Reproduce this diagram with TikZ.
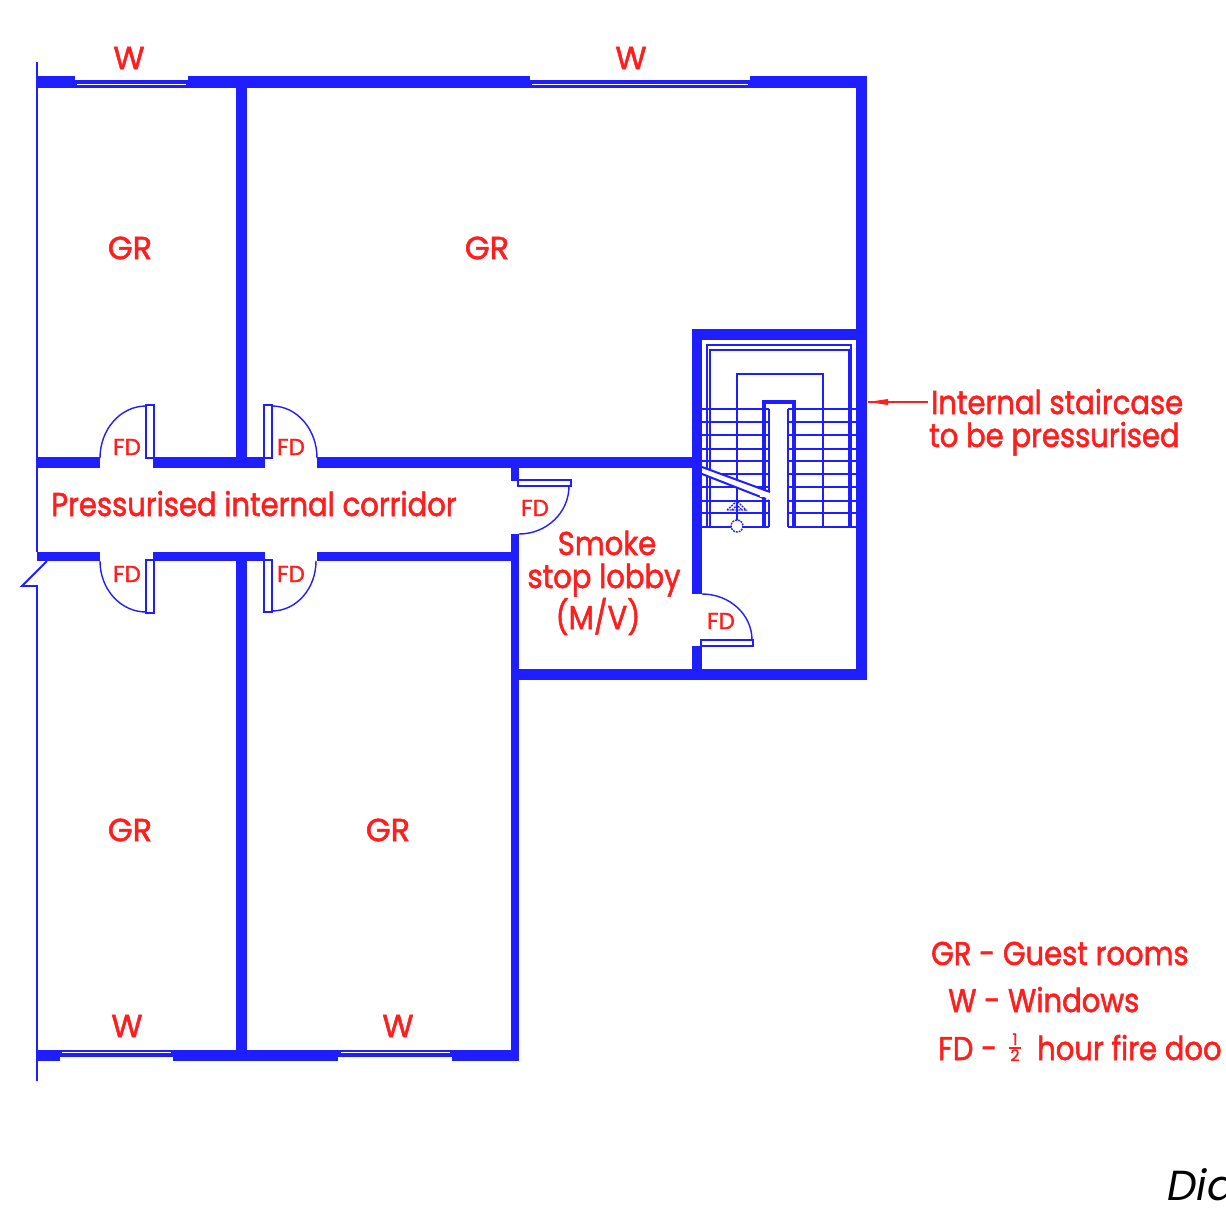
\documentclass[tikz,border=0pt]{standalone}
\usepackage{fontspec}
\setmainfont{Poppins}
\newfontfamily\labfont{Poppins}[FakeBold=1.6]
\newfontfamily\txtfont{Poppins}[FakeBold=1.6,FakeStretch=0.88]
\definecolor{wallblue}{RGB}{30,30,255}
\definecolor{labelred}{RGB}{255,30,30}
\tikzset{
  wall/.style={fill=wallblue,draw=none},
  thin line/.style={draw=wallblue,line width=1.9pt},
  mid line/.style={draw=wallblue,line width=2pt},
  thick rail/.style={draw=wallblue,line width=3.6pt},
  doorleaf/.style={draw=wallblue,line width=1.6pt,fill=white},
  swing/.style={draw=wallblue,line width=1.4pt},
  glass/.style={fill=white,draw=none},
  lab/.style={text=labelred,inner sep=0pt,font=\labfont\fontsize{32}{36}\selectfont},
  fd/.style={text=labelred,inner sep=0pt,font=\labfont\fontsize{23}{26}\selectfont},
  big/.style={text=labelred,inner sep=0pt,anchor=base west,font=\txtfont\fontsize{33}{36}\selectfont},
  tiny/.style={text=labelred,inner sep=0pt,anchor=base,font=\labfont\fontsize{16}{18}\selectfont},
}
\begin{document}
\begin{tikzpicture}[x=1pt,y=-1pt]
\useasboundingbox (0,0) rectangle (1226,1208);
\clip (0,0) rectangle (1226,1208);
\fill[white] (0,0) rectangle (1226,1208);
% thin left line
\draw[thin line] (37,62) -- (37,552);
\draw[thin line] (47,561) -- (22,586) -- (37,586) -- (37,1081);
% top wall and windows
\fill[wall] (37,76) rectangle (75,88);
\fill[wall] (188,76) rectangle (530,88);
\fill[wall] (750,76) rectangle (866,88);
\fill[wall] (75,80) rectangle (188,88);
\fill[wall] (530,80) rectangle (750,88);
\fill[glass] (77,83.6) rectangle (186,85.2);
\fill[glass] (532,83.6) rectangle (748,85.2);
% right wall
\fill[wall] (856,76) rectangle (867,680);
% partitions
\fill[wall] (236,76) rectangle (247,462);
\fill[wall] (236,555) rectangle (247,1061);
% corridor walls
\fill[wall] (37,457) rectangle (100,468);
\fill[wall] (153,457) rectangle (265,468);
\fill[wall] (317,457) rectangle (702,468);
\fill[wall] (37,552) rectangle (100,561);
\fill[wall] (153,552) rectangle (265,561);
\fill[wall] (317,552) rectangle (519,561);
% lobby
\fill[wall] (511,457) rectangle (519,481);
\fill[wall] (511,534) rectangle (519,1061);
\fill[wall] (511,669) rectangle (867,680);
% stair enclosure
\fill[wall] (692,329) rectangle (867,340);
\fill[wall] (692,329) rectangle (702,594);
\fill[wall] (692,646) rectangle (702,680);
% bottom wall and windows
\fill[wall] (37,1050) rectangle (60,1061);
\fill[wall] (60,1050) rectangle (173,1057);
\fill[wall] (173,1050) rectangle (338,1061);
\fill[wall] (338,1050) rectangle (452,1057);
\fill[wall] (452,1050) rectangle (519,1061);
\fill[glass] (62,1051.8) rectangle (171,1053.2);
\fill[glass] (341,1051.8) rectangle (450,1053.2);
% doors (the y axis points down, so angles run clockwise on the page)
\draw[swing] (100,458) arc[start angle=180,end angle=270,x radius=46,y radius=52];
\draw[doorleaf] (146,405) rectangle (154,458);
\draw[swing] (317,458) arc[start angle=0,end angle=-90,x radius=45,y radius=52];
\draw[doorleaf] (264,405) rectangle (272,458);
\draw[swing] (100,561) arc[start angle=180,end angle=90,x radius=46,y radius=51];
\draw[doorleaf] (146,560) rectangle (154,613);
\draw[swing] (316,561) arc[start angle=0,end angle=90,x radius=44,y radius=50];
\draw[doorleaf] (264,560) rectangle (272,612);
\draw[swing] (569,486) arc[start angle=0,end angle=90,x radius=50,y radius=48];
\draw[doorleaf] (518,480) rectangle (571,486);
\draw[swing] (752,640) arc[start angle=0,end angle=-90,x radius=50,y radius=46];
\draw[doorleaf] (701,640) rectangle (753,646);
% stairs
\foreach \y in {409,422,435,449,461,474,487,501,513,527}{
  \draw[thin line] (702,\y) -- (769,\y);
  \draw[thin line] (788,\y) -- (856,\y);
}
\draw[mid line] (707,527) -- (707,345) -- (851,345) -- (851,527);
\draw[mid line] (709.5,527) -- (709.5,349.5) -- (848.5,349.5) -- (848.5,527);
\draw[thin line] (737,527) -- (737,374) -- (823,374) -- (823,527);
\draw[thin line] (769,527) -- (769,409);
\draw[thin line] (788,527) -- (788,409);
\draw[thick rail] (764,527) -- (764,402) -- (794,402) -- (794,527);
% break in the flight
\fill[white] (702,467) -- (770,492) -- (770,500) -- (702,473) -- cycle;
\draw[mid line] (702,467) -- (770,492);
\draw[mid line] (702,474) -- (766,499);
% direction mark
\fill[white] (760,493) rectangle (775,497);
\fill[white] (737,526) circle[radius=6];
\draw[thin line,densely dotted,line width=1.4pt] (737,526) circle[radius=6];
\draw[thin line,densely dotted,line width=1.4pt] (727,510) -- (737,501) -- (746,510) -- cycle;
\draw[thin line,densely dotted,line width=1.4pt] (732,510) -- (737,505) -- (742,510);
% leader arrow
\coordinate (leaderEnd) at (928,402);
\coordinate (leaderTip) at (868,402);
\fill[labelred] (868,402) -- (888,399) -- (888,405) -- cycle;
\draw[labelred,line width=1.5pt] (leaderEnd) -- (leaderTip);
% labels
\node[lab] (w1) at (129,58) {W};
\node[lab] (w2) at (631,58) {W};
\node[lab] (w3) at (127,1026) {W};
\node[lab] (w4) at (398,1026) {W};
\node[lab] (g1) at (130,248) {GR};
\node[lab] (g2) at (487,248) {GR};
\node[lab] (g3) at (130,830) {GR};
\node[lab] (g4) at (388,830) {GR};
\node[fd] (f1) at (127,447) {FD};
\node[fd] (f2) at (291,447) {FD};
\node[fd] (f3) at (127,574) {FD};
\node[fd] (f4) at (291,574) {FD};
\node[fd] (f5) at (535,508) {FD};
\node[fd] (f6) at (721,621) {FD};
\node[big,anchor=base] (corr) at (254,516) {Pressurised internal corridor};
\node[big,anchor=base] (s1) at (607,555) {Smoke};
\node[big,anchor=base] (s2) at (604,588) {stop lobby};
\node[big,anchor=base] (s3) at (598,629) {(M/V)};
\node[big] (st1) at (931,414) {Internal staircase};
\node[big] (st2) at (929,447) {to be pressurised};
\node[big] (k1) at (931,965) {GR - Guest rooms};
\node[big] (k2) at (948,1012) {W - Windows};
\node[big] (k3) at (938,1060) {FD -};
\node[tiny] (hn) at (1015,1045) {1};
\node[tiny] (hd) at (1015,1061) {2};
\draw[labelred,line width=1.2pt] (1009,1048) -- (1021,1048);
\node[big] (k4) at (1037,1060) {hour fire doo};
\node[anchor=base west,inner sep=0pt,font=\fontsize{42}{46}\selectfont\itshape] (dia) at (1167,1200) {Dia};
\end{tikzpicture}
\end{document}
